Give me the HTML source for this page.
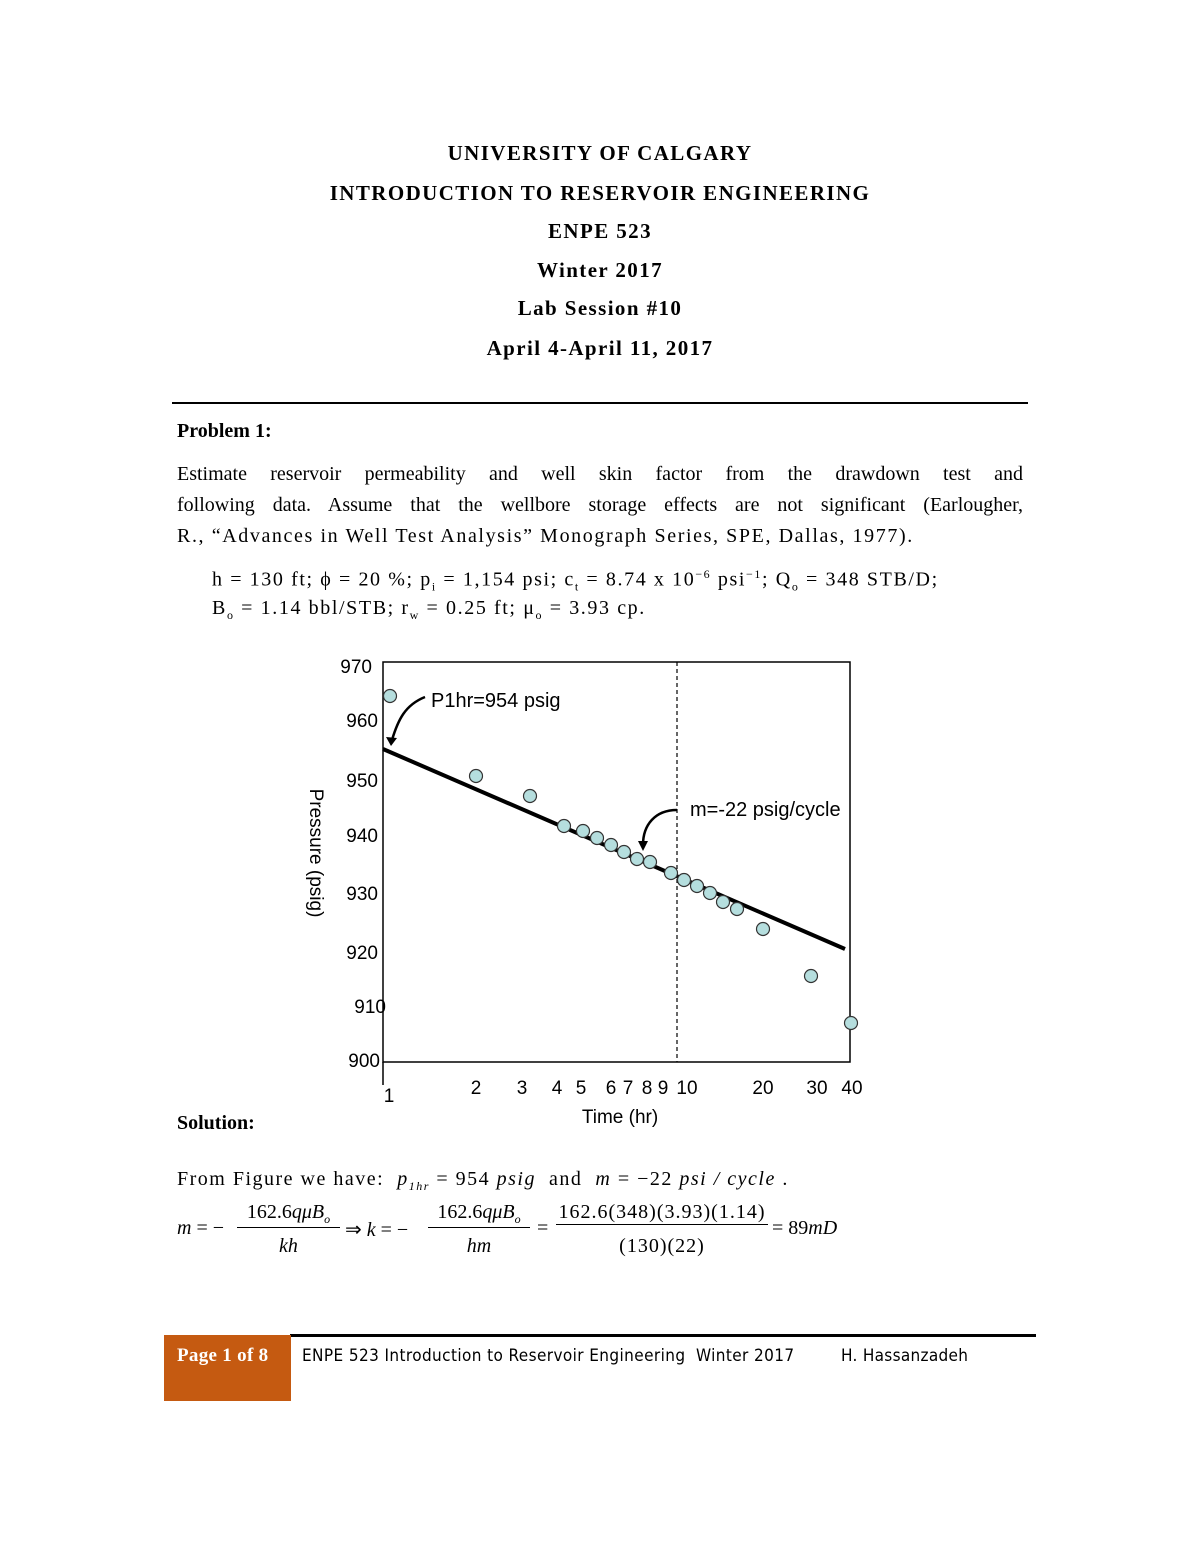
<!DOCTYPE html>
<html><head><meta charset="utf-8"><style>
body{margin:0;background:#fff;}
#p{position:relative;width:1200px;height:1553px;overflow:hidden;font-family:"Liberation Serif",serif;color:#000;}
.c{position:absolute;left:0;width:1200px;text-align:center;font-weight:bold;font-size:21px;letter-spacing:1.4px;}
.t{position:absolute;font-size:20px;white-space:nowrap;}
.b{letter-spacing:1.6px;}
.j{position:absolute;left:177px;width:846px;font-size:20px;line-height:31px;text-align:justify;text-align-last:justify;}
.fr{position:absolute;font-size:20px;white-space:nowrap;text-align:center;}
</style></head><body><div id="p">
<div class="c" style="top:141px">UNIVERSITY OF CALGARY</div>
<div class="c" style="top:181px">INTRODUCTION TO RESERVOIR ENGINEERING</div>
<div class="c" style="top:219px">ENPE 523</div>
<div class="c" style="top:258px">Winter 2017</div>
<div class="c" style="top:296px">Lab Session #10</div>
<div class="c" style="top:336px">April 4-April 11, 2017</div>
<div style="position:absolute;left:172px;top:402px;width:856px;height:2px;background:#000"></div>
<div class="t" style="left:177px;top:420px;font-weight:bold">Problem 1:</div>
<div class="j" style="top:459px">Estimate reservoir permeability and well skin factor from the drawdown test and</div>
<div class="j" style="top:490px">following data. Assume that the wellbore storage effects are not significant (Earlougher,</div>
<div class="t b" style="left:177px;top:525px">R., “Advances in Well Test Analysis” Monograph Series, SPE, Dallas, 1977).</div>
<div class="t b" style="left:212px;top:567px">h = 130 ft; ϕ = 20 %; p<sub style="font-size:12px">i</sub> = 1,154 psi; c<sub style="font-size:12px">t</sub> = 8.74 x 10<sup style="font-size:12px">−6</sup> psi<sup style="font-size:12px">−1</sup>; Q<sub style="font-size:12px">o</sub> = 348 STB/D;</div>
<div class="t b" style="left:212px;top:597px">B<sub style="font-size:12px">o</sub> = 1.14 bbl/STB; r<sub style="font-size:12px">w</sub> = 0.25 ft; μ<sub style="font-size:12px">o</sub> = 3.93 cp.</div>
<svg style="position:absolute;left:0;top:0" width="1200" height="1553" font-family="Liberation Sans, sans-serif" font-size="19">
<rect x="383" y="662" width="467" height="400" fill="none" stroke="#000" stroke-width="1.5"/>
<line x1="383" y1="1062" x2="383" y2="1085" stroke="#000" stroke-width="1.5"/>
<line x1="677" y1="662" x2="677" y2="1062" stroke="#000" stroke-dasharray="4,3" stroke-width="1.2"/>
<g text-anchor="end">
<text x="372" y="673">970</text><text x="378" y="727">960</text><text x="378" y="787">950</text><text x="378" y="842">940</text><text x="378" y="900">930</text><text x="378" y="959">920</text><text x="386" y="1013">910</text><text x="380" y="1067">900</text></g>
<g text-anchor="middle">
<text x="389" y="1102">1</text><text x="476" y="1094">2</text><text x="522" y="1094">3</text><text x="557" y="1094">4</text><text x="581" y="1094">5</text><text x="611" y="1094">6</text><text x="628" y="1094">7</text><text x="647" y="1094">8</text><text x="663" y="1094">9</text><text x="687" y="1094">10</text><text x="763" y="1094">20</text><text x="817" y="1094">30</text><text x="852" y="1094">40</text>
<text x="620" y="1123">Time (hr)</text></g>
<text transform="translate(310,853) rotate(90)" text-anchor="middle">Pressure (psig)</text>
<line x1="383" y1="749" x2="845" y2="949" stroke="#000" stroke-width="4"/>
<g fill="#b5dede" stroke="#333" stroke-width="1.2">
<circle cx="390" cy="696" r="6.5"/><circle cx="476" cy="776" r="6.5"/><circle cx="530" cy="796" r="6.5"/><circle cx="564" cy="826" r="6.5"/><circle cx="583" cy="831" r="6.5"/><circle cx="597" cy="838" r="6.5"/><circle cx="611" cy="845" r="6.5"/><circle cx="624" cy="852" r="6.5"/><circle cx="637" cy="859" r="6.5"/><circle cx="650" cy="862" r="6.5"/><circle cx="671" cy="873" r="6.5"/><circle cx="684" cy="880" r="6.5"/><circle cx="697" cy="886" r="6.5"/><circle cx="710" cy="893" r="6.5"/><circle cx="723" cy="902" r="6.5"/><circle cx="737" cy="909" r="6.5"/><circle cx="763" cy="929" r="6.5"/><circle cx="811" cy="976" r="6.5"/><circle cx="851" cy="1023" r="6.5"/></g>
<text x="431" y="707" font-size="20">P1hr=954 psig</text>
<text x="690" y="816" font-size="20">m=-22 psig/cycle</text>
<path d="M425,697 C405,705 398,720 392,740" fill="none" stroke="#000" stroke-width="2.5"/>
<path d="M386,737 L391,746 L397,738 Z" fill="#000"/>
<path d="M677,810 C655,810 643,825 643,845" fill="none" stroke="#000" stroke-width="2.5"/>
<path d="M638,841 L643,851 L648,841 Z" fill="#000"/>
</svg>
<div class="t" style="left:177px;top:1112px;font-weight:bold">Solution:</div>
<div class="t" style="left:177px;top:1168px;letter-spacing:1.5px">From Figure we have: &nbsp;<i>p</i><sub style="font-size:12px"><i>1hr</i></sub> = 954 <i>psig</i> &nbsp;and &nbsp;<i>m</i> = −22 <i>psi / cycle</i> .</div>
<div class="t" style="left:177px;top:1217px"><i>m</i> = −</div>
<div class="fr" style="left:237px;top:1201px;width:103px;border-bottom:1px solid #000">162.6<i>qμB<sub style="font-size:12px">o</sub></i></div>
<div class="fr" style="left:237px;top:1235px;width:103px"><i>kh</i></div>
<div class="t" style="left:345px;top:1217px">⇒ <i>k</i> = −</div>
<div class="fr" style="left:428px;top:1201px;width:102px;border-bottom:1px solid #000">162.6<i>qμB<sub style="font-size:12px">o</sub></i></div>
<div class="fr" style="left:428px;top:1235px;width:102px"><i>hm</i></div>
<div class="t" style="left:537px;top:1217px">=</div>
<div class="fr" style="left:556px;top:1201px;width:212px;border-bottom:1px solid #000;letter-spacing:1px">162.6(348)(3.93)(1.14)</div>
<div class="fr" style="left:556px;top:1235px;width:212px;letter-spacing:1px">(130)(22)</div>
<div class="t" style="left:772px;top:1217px">= 89<i>mD</i></div>
<div style="position:absolute;left:290px;top:1334px;width:746px;height:3px;background:#000"></div>
<div style="position:absolute;left:164px;top:1335px;width:127px;height:66px;background:#c55a11"></div>
<div class="t" style="left:177px;top:1345px;color:#fff;font-weight:bold;font-size:19px;letter-spacing:0.3px">Page 1 of 8</div>
<div class="t" style="left:302px;top:1346px;font-size:17px;font-family:'DejaVu Sans Condensed','Liberation Sans',sans-serif;letter-spacing:0.4px">ENPE 523 Introduction to Reservoir Engineering&nbsp; Winter 2017</div>
<div class="t" style="left:841px;top:1346px;font-size:17px;font-family:'DejaVu Sans Condensed','Liberation Sans',sans-serif;letter-spacing:0.3px">H. Hassanzadeh</div>
</div></body></html>
